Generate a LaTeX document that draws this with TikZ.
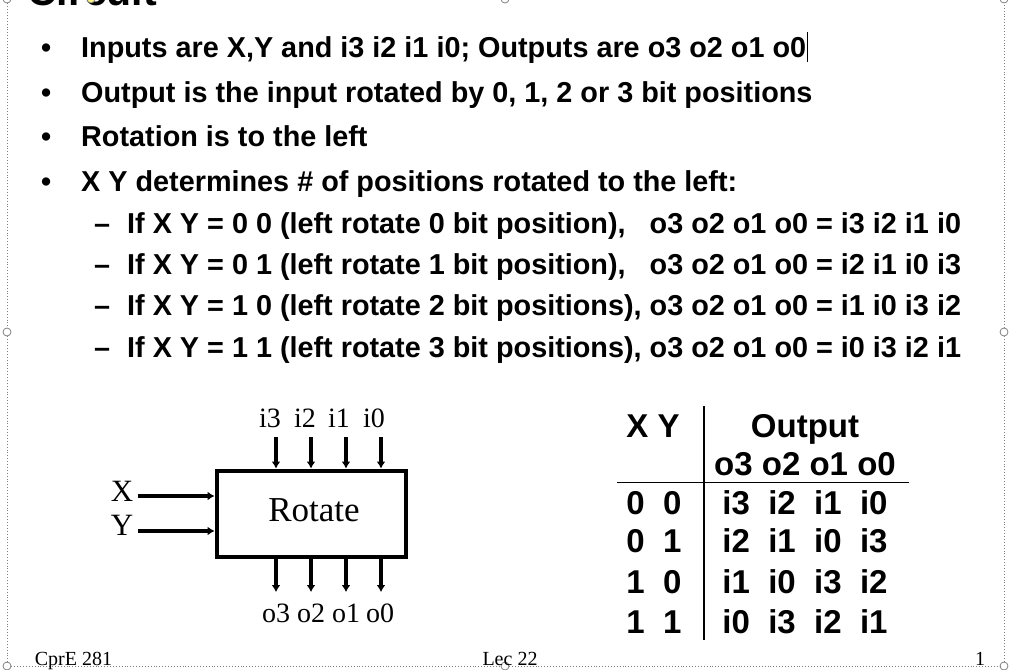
\documentclass[tikz,border=0pt]{standalone}
\usepackage{fontspec}
\setmainfont{Liberation Serif}
\setsansfont{Liberation Sans}
\usetikzlibrary{arrows.meta}

\tikzset{
	bodytext/.style={anchor=base west,inner sep=0pt,font=\sffamily\bfseries\fontsize{28.8}{30}\selectfont},
	subtext/.style={anchor=base west,inner sep=0pt,font=\sffamily\bfseries\fontsize{28.8}{30}\selectfont},
	titletext/.style={anchor=base west,inner sep=0pt,font=\sffamily\bfseries\fontsize{41}{44}\selectfont},
	celltext/.style={anchor=base,inner sep=0pt,font=\sffamily\bfseries\fontsize{33}{36}\selectfont},
	pintext/.style={anchor=base,inner sep=0pt,font=\rmfamily\fontsize{28}{30}\selectfont},
	foottext/.style={anchor=base,inner sep=0pt,font=\rmfamily\fontsize{20}{22}\selectfont},
	handle/.style={shape=circle,draw=gray,fill=white,line width=0.8pt,inner sep=0pt,minimum size=8pt},
	frameline/.style={draw=gray,dotted,line width=0.9pt},
	wire/.style={->,line width=3.4pt},
	tableline/.style={line width=1.2pt},
}

\begin{document}
\begin{tikzpicture}[x=1pt,y=-1pt,>={Latex[length=7pt,width=9pt]}]
	\useasboundingbox (0,0) rectangle (1022,669);

	% selection frame
	\node (nw) [handle] at (7,-1) {};
	\node (north) [handle] at (505,-1) {};
	\node (ne) [handle] at (1004,-1) {};
	\node (west) [handle] at (7,332) {};
	\node (east) [handle] at (1004,332) {};
	\node (sw) [handle] at (7,666) {};
	\node (south) [handle] at (505,666) {};
	\node (se) [handle] at (1004,666) {};
	\draw[frameline] (nw) -- (west);
	\draw[frameline] (west) -- (sw);
	\draw[frameline] (sw) -- (south);
	\draw[frameline] (south) -- (se);
	\draw[frameline] (se) -- (east);
	\draw[frameline] (east) -- (ne);

	% slide text
	\node (title) [titletext] at (27,6) {Circuit};
	\node (turn) [handle,fill=yellow!50] at (91,-1) {};

	\node (bulletA) [bodytext] at (41,57) {•};
	\node (bulletB) [bodytext] at (41,102) {•};
	\node (bulletC) [bodytext] at (41,146) {•};
	\node (bulletD) [bodytext] at (41,191) {•};
	\node (lineA) [bodytext] at (81,57) {Inputs are X,Y and i3 i2 i1 i0; Outputs are o3 o2 o1 o0};
	\node (lineB) [bodytext] at (81,102) {Output is the input rotated by 0, 1, 2 or 3 bit positions};
	\node (lineC) [bodytext] at (81,146) {Rotation is to the left};
	\node (lineD) [bodytext] at (81,191) {X Y determines \# of positions rotated to the left:};
	\coordinate (cursortop) at (807,32);
	\coordinate (cursorend) at (807,62);
	\draw[line width=0.8pt] (cursortop) -- (cursorend);

	\node (dashA) [subtext] at (94,233) {–};
	\node (dashB) [subtext] at (94,274) {–};
	\node (dashC) [subtext] at (94,315) {–};
	\node (dashD) [subtext] at (94,357) {–};
	\node (subA) [subtext] at (127,233) {If X Y = 0 0 (left rotate 0 bit position),\ \ \ o3 o2 o1 o0 = i3 i2 i1 i0};
	\node (subB) [subtext] at (127,274) {If X Y = 0 1 (left rotate 1 bit position),\ \ \ o3 o2 o1 o0 = i2 i1 i0 i3};
	\node (subC) [subtext] at (127,315) {If X Y = 1 0 (left rotate 2 bit positions), o3 o2 o1 o0 = i1 i0 i3 i2};
	\node (subD) [subtext] at (127,357) {If X Y = 1 1 (left rotate 3 bit positions), o3 o2 o1 o0 = i0 i3 i2 i1};

	% rotate block
	\node (rotate) [shape=rectangle,draw,line width=4pt,minimum width=189pt,minimum height=86pt,inner sep=0pt,font=\rmfamily\fontsize{35}{36}\selectfont,text depth=0pt,text height=21pt] at (311,513.5) {\raisebox{3pt}{\hspace{6pt}Rotate}};

	\node (labelithree) [pintext] at (270,427) {i3};
	\node (labelitwo) [pintext] at (305,427) {i2};
	\node (labelione) [pintext] at (339,427) {i1};
	\node (labelizero) [pintext] at (374,427) {i0};
	\coordinate (ithree) at (276,437);
	\coordinate (itwo) at (311,437);
	\coordinate (ione) at (346,437);
	\coordinate (izero) at (381,437);
	\path[wire,draw] (ithree) -- (ithree |- rotate.north);
	\path[wire,draw] (itwo) -- (itwo |- rotate.north);
	\path[wire,draw] (ione) -- (ione |- rotate.north);
	\path[wire,draw] (izero) -- (izero |- rotate.north);

	\node (labelx) [pintext,font=\rmfamily\fontsize{31}{32}\selectfont] at (122,501) {X};
	\node (labely) [pintext,font=\rmfamily\fontsize{31}{32}\selectfont] at (122,535) {Y};
	\coordinate (xin) at (138,496);
	\coordinate (yin) at (138,531);
	\path[wire,draw] (xin) -- (xin -| rotate.west);
	\path[wire,draw] (yin) -- (yin -| rotate.west);

	\coordinate (othree) at (276,592);
	\coordinate (otwo) at (311,592);
	\coordinate (oone) at (346,592);
	\coordinate (ozero) at (381,592);
	\path[wire,draw] (othree |- rotate.south) -- (othree);
	\path[wire,draw] (otwo |- rotate.south) -- (otwo);
	\path[wire,draw] (oone |- rotate.south) -- (oone);
	\path[wire,draw] (ozero |- rotate.south) -- (ozero);
	\node (labelothree) [pintext] at (276,622) {o3};
	\node (labelotwo) [pintext] at (311,622) {o2};
	\node (labeloone) [pintext] at (346,622) {o1};
	\node (labelozero) [pintext] at (380,622) {o0};

	% table
	\coordinate (ruletop) at (704,406);
	\coordinate (rulebot) at (704,640);
	\coordinate (ruleleft) at (617,482.5);
	\coordinate (ruleright) at (909,482.5);
	\draw[tableline] (ruletop) -- (rulebot);
	\draw[tableline] (ruleleft) -- (ruleright);

	\node (headxy) [celltext] at (653,437) {X Y};
	\node (headout) [celltext] at (805,437) {Output};
	\node (headpins) [celltext] at (805,475) {o3 o2 o1 o0};
	\node (selA) [celltext] at (654,514) {0\ \ 0};
	\node (selB) [celltext] at (654,552) {0\ \ 1};
	\node (selC) [celltext] at (654,593) {1\ \ 0};
	\node (selD) [celltext] at (654,633) {1\ \ 1};
	\node (rowA) [celltext] at (805,514) {i3\ \ i2\ \ i1\ \ i0};
	\node (rowB) [celltext] at (805,552) {i2\ \ i1\ \ i0\ \ i3};
	\node (rowC) [celltext] at (805,593) {i1\ \ i0\ \ i3\ \ i2};
	\node (rowD) [celltext] at (805,633) {i0\ \ i3\ \ i2\ \ i1};

	% footer
	\node (footleft) [foottext] at (73.5,665) {CprE 281};
	\node (footmid) [foottext] at (510,665) {Lec 22};
	\node (footright) [foottext] at (980,665) {1};
\end{tikzpicture}
\end{document}
